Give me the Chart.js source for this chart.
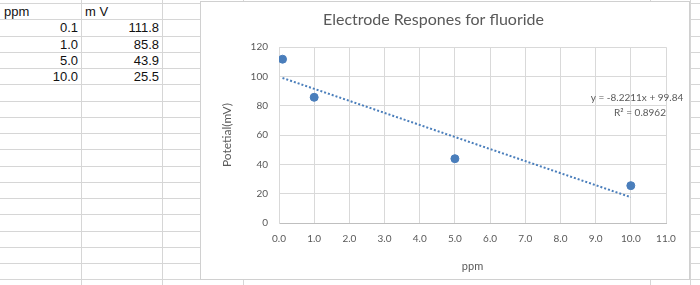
<!DOCTYPE html>
<html>
<head>
<meta charset="utf-8">
<script src="https://cdn.jsdelivr.net/npm/chart.js@4.4.1/dist/chart.umd.min.js"></script>
<style>
  html, body { margin:0; padding:0; background:#fff; width:700px; height:285px; overflow:hidden; }
  #sheet { position:absolute; left:0; top:0; width:700px; height:285px; }
  .hl { position:absolute; left:0; width:700px; height:1px; background:#d6d6d6; }
  .vl { position:absolute; top:0; width:1px; height:285px; background:#d6d6d6; }
  .cell { position:absolute; font-family:"Liberation Sans", Arial, sans-serif; font-size:13px; color:#111; line-height:16px; }
  #box { position:absolute; left:200px; top:1px; width:488px; height:277px; border:1px solid #d0d0d0; background:#fff; }
  #c { position:absolute; left:0; top:0; }
</style>
</head>
<body>
<div id="sheet"></div>
<div id="box"><canvas id="c" width="488" height="277"></canvas></div>
<script>
// ---- data ----
const ppm = [0.1, 1.0, 5.0, 10.0];
const mV = [111.8, 85.8, 43.9, 25.5];
const ppmLabels = ['0.1', '1.0', '5.0', '10.0'];
const mVLabels = ['111.8', '85.8', '43.9', '25.5'];
const trendX = [0.1, 10.0];
const trendY = [99.0, 17.6];
const xTickLabels = ['0.0','1.0','2.0','3.0','4.0','5.0','6.0','7.0','8.0','9.0','10.0','11.0'];
const yTickLabels = ['0','20','40','60','80','100','120'];
const titleText = 'Electrode Respones for fluoride';
const equationText = ['y = -8.2211x + 99.84', 'R\u00B2 = 0.8962'];

// ---- spreadsheet background ----
const sheet = document.getElementById('sheet');
for (let k = 0; k < 18; k++) {
  const d = document.createElement('div');
  d.className = 'hl';
  d.style.top = Math.round(3 + 16.25 * k) + 'px';
  sheet.appendChild(d);
}
[81, 162, 243, 650, 690].forEach(x => {
  const d = document.createElement('div');
  d.className = 'vl';
  d.style.left = x + 'px';
  sheet.appendChild(d);
});
function cell(text, x, y, align) {
  const d = document.createElement('div');
  d.className = 'cell';
  d.textContent = text;
  d.style.top = y + 'px';
  if (align === 'right') { d.style.right = (700 - x) + 'px'; d.style.textAlign = 'right'; }
  else d.style.left = x + 'px';
  sheet.appendChild(d);
}
cell('ppm', 4, 4, 'left');
cell('m V', 85, 4, 'left');
for (let i = 0; i < ppm.length; i++) {
  const y = Math.round(3 + 16.25 * (i + 1)) + 1;
  cell(ppmLabels[i], 78, y, 'right');
  cell(mVLabels[i], 159, y, 'right');
}

// ---- chart ----
const grey = '#595959';
const blue = '#4a7ebb';
const eqPlugin = {
  id: 'eq',
  afterDatasetsDraw(chart) {
    const ctx = chart.ctx;
    ctx.save();
    ctx.fillStyle = grey;
    ctx.font = '10px Lato, "Open Sans", sans-serif';
    ctx.textAlign = 'center';
    ctx.textBaseline = 'middle';
    ctx.fillText(equationText[0], 436, 96);
    ctx.fillText(equationText[1], 439, 111);
    ctx.restore();
  }
};

new Chart(document.getElementById('c'), {
  type: 'scatter',
  data: {
    datasets: [
      {
        label: 'mV',
        data: ppm.map((x, i) => ({ x: x, y: mV[i] })),
        backgroundColor: blue,
        borderColor: blue,
        pointRadius: 4,
        pointHoverRadius: 4,
        showLine: false,
        order: 1
      },
      {
        label: 'trend',
        data: trendX.map((x, i) => ({ x: x, y: trendY[i] })),
        borderColor: blue,
        borderWidth: 2,
        borderDash: [2, 2],
        pointRadius: 0,
        showLine: true,
        fill: false,
        order: 2
      }
    ]
  },
  options: {
    responsive: false,
    animation: false,
    devicePixelRatio: 1,
    layout: { padding: { left: 0, right: 23, top: 0, bottom: 0 } },
    plugins: {
      legend: { display: false },
      tooltip: { enabled: false },
      title: {
        display: true,
        text: titleText,
        color: grey,
        font: { family: 'Lato, "Open Sans", sans-serif', size: 16, weight: 'normal', lineHeight: 1.2 },
        padding: { top: 8, bottom: 18 }
      }
    },
    scales: {
      x: {
        type: 'linear',
        min: 0, max: 11,
        afterBuildTicks: s => { s.ticks = xTickLabels.map((t, i) => ({ value: i })); },
        afterFit: s => { s.height = 56; },
        ticks: {
          callback: (v, i) => xTickLabels[i],
          color: grey,
          font: { family: 'Lato, "Open Sans", sans-serif', size: 10 },
          padding: 10,
          maxRotation: 0,
          autoSkip: false
        },
        grid: { color: '#d9d9d9', drawTicks: false, lineWidth: 1 },
        border: { color: '#bfbfbf', width: 1 },
        title: {
          display: true,
          text: 'ppm',
          color: grey,
          font: { family: 'Lato, "Open Sans", sans-serif', size: 11, lineHeight: 1.2 },
          padding: { top: 0, bottom: 6 }
        }
      },
      y: {
        type: 'linear',
        min: 0, max: 120,
        afterBuildTicks: s => { s.ticks = yTickLabels.map(t => ({ value: Number(t) })); },
        afterFit: s => { s.width = 78; },
        ticks: {
          callback: (v, i) => yTickLabels[i],
          color: grey,
          font: { family: 'Lato, "Open Sans", sans-serif', size: 10 },
          padding: 11
        },
        grid: { color: '#d9d9d9', drawTicks: false, lineWidth: 1 },
        border: { color: '#d9d9d9', width: 1 },
        title: {
          display: true,
          text: 'Potetial(mV)',
          color: grey,
          font: { family: 'Lato, "Open Sans", sans-serif', size: 12, lineHeight: 1.2 },
          padding: { top: 19, bottom: 0 }
        }
      }
    }
  },
  plugins: [eqPlugin]
});
</script>
</body>
</html>
